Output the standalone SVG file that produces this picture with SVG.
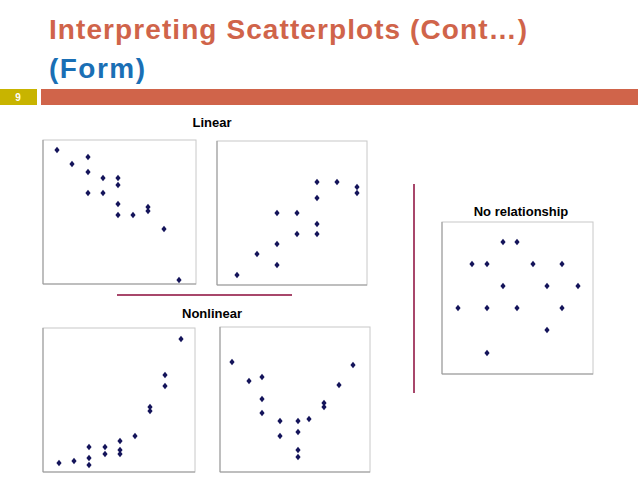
<svg xmlns="http://www.w3.org/2000/svg" xmlns:xlink="http://www.w3.org/1999/xlink" width="638" height="479" viewBox="0 0 638 479">
<style>
.t{font-family:"Liberation Sans",Arial,sans-serif;font-weight:bold}
.lab{font-family:"Liberation Sans",Arial,sans-serif;font-weight:bold;font-size:13px;fill:#000;text-anchor:middle}
.box{fill:#fff;stroke:#c8c8c8;stroke-width:1}
.ax{stroke:#999;stroke-width:1}
</style>
<defs><path id="d" d="M0,-3.2 L2.6,0 L0,3.2 L-2.6,0Z" fill="#14145a"/></defs>
<rect width="638" height="479" fill="#fff"/>
<text class="t" x="49" y="39" font-size="28" fill="#d0644a" textLength="478" lengthAdjust="spacing">Interpreting Scatterplots (Cont…)</text>
<text class="t" x="49" y="78" font-size="28" fill="#1a6fb5" textLength="96" lengthAdjust="spacing">(Form)</text>
<rect x="0" y="89" width="37" height="16" fill="#c8b400"/>
<text class="t" x="18" y="101" font-size="10" fill="#fff" text-anchor="middle">9</text>
<rect x="41" y="89" width="597" height="16" fill="#d0644a"/>
<text class="lab" x="212" y="127">Linear</text>
<text class="lab" x="212" y="318">Nonlinear</text>
<text class="lab" x="521" y="216">No relationship</text>
<g id="connectors">
<line x1="117" y1="295" x2="292" y2="295" stroke="#a8476b" stroke-width="2"/>
<line x1="414" y1="184" x2="414" y2="393" stroke="#a8476b" stroke-width="2"/>
</g>
<g id="plot1"><rect class="box" x="43" y="140" width="153" height="144"/><line class="ax" x1="43" y1="140" x2="43" y2="284"/><line class="ax" x1="43" y1="284" x2="196" y2="284"/>
<use href="#d" x="57" y="150"/><use href="#d" x="72" y="164"/><use href="#d" x="88" y="157"/><use href="#d" x="88" y="172"/><use href="#d" x="88" y="193"/><use href="#d" x="103" y="178"/><use href="#d" x="103" y="193"/><use href="#d" x="118" y="178"/><use href="#d" x="118" y="185"/><use href="#d" x="118" y="204"/><use href="#d" x="118" y="215"/><use href="#d" x="133" y="215"/><use href="#d" x="148" y="207"/><use href="#d" x="148" y="211"/><use href="#d" x="164" y="229"/><use href="#d" x="179" y="280"/></g>
<g id="plot2"><rect class="box" x="217" y="141" width="150" height="144"/><line class="ax" x1="217" y1="141" x2="217" y2="285"/><line class="ax" x1="217" y1="285" x2="367" y2="285"/>
<use href="#d" x="237" y="275"/><use href="#d" x="257" y="254"/><use href="#d" x="277" y="213"/><use href="#d" x="277" y="244"/><use href="#d" x="277" y="265"/><use href="#d" x="297" y="213"/><use href="#d" x="297" y="234"/><use href="#d" x="317" y="182"/><use href="#d" x="317" y="198"/><use href="#d" x="317" y="224"/><use href="#d" x="317" y="234"/><use href="#d" x="337" y="182"/><use href="#d" x="357" y="187"/><use href="#d" x="357" y="193"/></g>
<g id="plot3"><rect class="box" x="43" y="328" width="152" height="144"/><line class="ax" x1="43" y1="328" x2="43" y2="472"/><line class="ax" x1="43" y1="472" x2="195" y2="472"/>
<use href="#d" x="59" y="463"/><use href="#d" x="74" y="461"/><use href="#d" x="89" y="447"/><use href="#d" x="89" y="458"/><use href="#d" x="89" y="465"/><use href="#d" x="105" y="447"/><use href="#d" x="105" y="454"/><use href="#d" x="120" y="441"/><use href="#d" x="120" y="450"/><use href="#d" x="120" y="454"/><use href="#d" x="135" y="436"/><use href="#d" x="150" y="411"/><use href="#d" x="150" y="407"/><use href="#d" x="165" y="386"/><use href="#d" x="165" y="375"/><use href="#d" x="181" y="339"/></g>
<g id="plot4"><rect class="box" x="220" y="327" width="150" height="145"/><line class="ax" x1="220" y1="327" x2="220" y2="472"/><line class="ax" x1="220" y1="472" x2="370" y2="472"/>
<use href="#d" x="232" y="362"/><use href="#d" x="249" y="381"/><use href="#d" x="262" y="377"/><use href="#d" x="262" y="399"/><use href="#d" x="262" y="413"/><use href="#d" x="280" y="421"/><use href="#d" x="280" y="436"/><use href="#d" x="298" y="421"/><use href="#d" x="298" y="432"/><use href="#d" x="298" y="450"/><use href="#d" x="298" y="457"/><use href="#d" x="309" y="419"/><use href="#d" x="324" y="403"/><use href="#d" x="324" y="407"/><use href="#d" x="339" y="385"/><use href="#d" x="353" y="365"/></g>
<g id="plot5"><rect class="box" x="442" y="222" width="151" height="152"/><line class="ax" x1="442" y1="222" x2="442" y2="374"/><line class="ax" x1="442" y1="374" x2="593" y2="374"/>
<use href="#d" x="458" y="308"/><use href="#d" x="472" y="264"/><use href="#d" x="487" y="264"/><use href="#d" x="487" y="308"/><use href="#d" x="487" y="353"/><use href="#d" x="503" y="242"/><use href="#d" x="503" y="286"/><use href="#d" x="517" y="242"/><use href="#d" x="517" y="308"/><use href="#d" x="533" y="264"/><use href="#d" x="547" y="286"/><use href="#d" x="547" y="330"/><use href="#d" x="562" y="264"/><use href="#d" x="562" y="308"/><use href="#d" x="578" y="286"/></g>
</svg>
